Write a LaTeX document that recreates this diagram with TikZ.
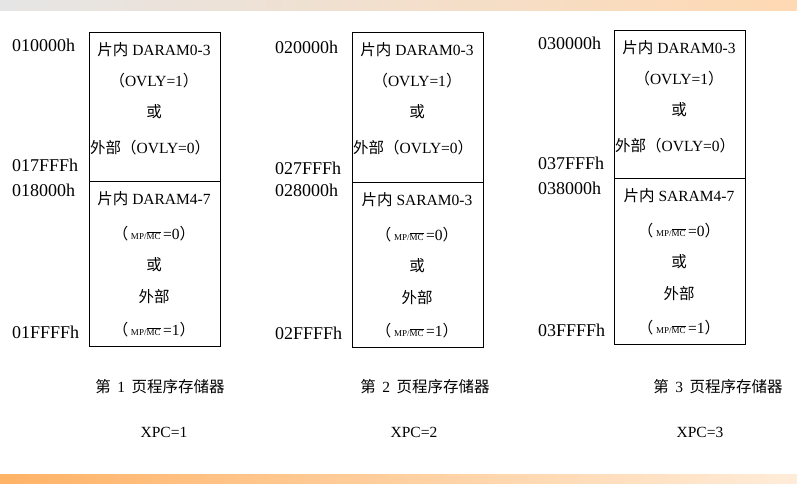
\documentclass[tikz,border=0pt]{standalone}
\usepackage{fontspec}
\setmainfont{Liberation Serif}
\newfontfamily\cjk{Noto Sans CJK SC}
\begin{document}
\begin{tikzpicture}[x=1pt,y=-1pt,
  lbl/.style={anchor=west,inner sep=0pt,font=\fontsize{18}{18}\selectfont},
  txt/.style={inner sep=0pt,font=\fontsize{15.5}{15.5}\selectfont},
  box/.style={draw,line width=0.8pt}]
\useasboundingbox (0,0) rectangle (797,483);
\shade[left color=white!80!gray,right color=orange!30!white] (0,0) rectangle (797,10);
\shade[left color=orange!60!white,right color=orange!15!white] (0,474) rectangle (797,483);
\newcommand{\lp}{{\cjk （}}
\newcommand{\rp}{{\cjk ）}}
\newcommand{\mpmc}[1]{\lp\,{\small MP/$\overline{\mbox{MC}}$}\,=#1\rp}
\foreach \xa/\ya/\ym/\yb/\k/\lo/\cx/\xx in {89/32/181/346/1/DARAM4-7/160/164, 352/32/182/347/2/SARAM0-3/425/414, 614/30/178/344/3/SARAM4-7/718/700}{
  \draw[box] (\xa,\ya) rectangle (\xa+131,\yb);
  \draw[box] (\xa,\ym) -- (\xa+131,\ym);
  \pgfmathsetmacro\mx{\xa+65}
  \node[txt] at (\mx,\ya+18) {{\cjk 片内} DARAM0-3};
  \node[txt] at (\mx,\ya+49) {\lp OVLY=1\rp};
  \node[txt] at (\mx,\ya+80) {\cjk 或};
  \node[txt,anchor=west] at (\xa+1,\ya+116) {{\cjk 外部}\lp OVLY=0\rp};
  \node[txt] at (\mx,\ym+18) {{\cjk 片内} \lo};
  \node[txt] at (\mx,\ym+53) {\mpmc{0}};
  \node[txt] at (\mx,\ym+84) {\cjk 或};
  \node[txt] at (\mx,\ym+116) {\cjk 外部};
  \node[txt] at (\mx,\yb-16) {\mpmc{1}};
  \node[txt] at (\cx,387) {{\cjk 第} \,\k\, {\cjk 页程序存储器}};
  \node[txt] at (\xx,432) {XPC=\k};
}
\foreach \x/\a/\b/\c/\d/\p in {12/45/165/190/332/1,275/47/168/190/333/2,538/43/163/188/330/3}{
  \node[lbl] at (\x,\a) {0\p0000h};
  \node[lbl] at (\x,\b) {0\p7FFFh};
  \node[lbl] at (\x,\c) {0\p8000h};
  \node[lbl] at (\x,\d) {0\p FFFFh};
}
\end{tikzpicture}
\end{document}
